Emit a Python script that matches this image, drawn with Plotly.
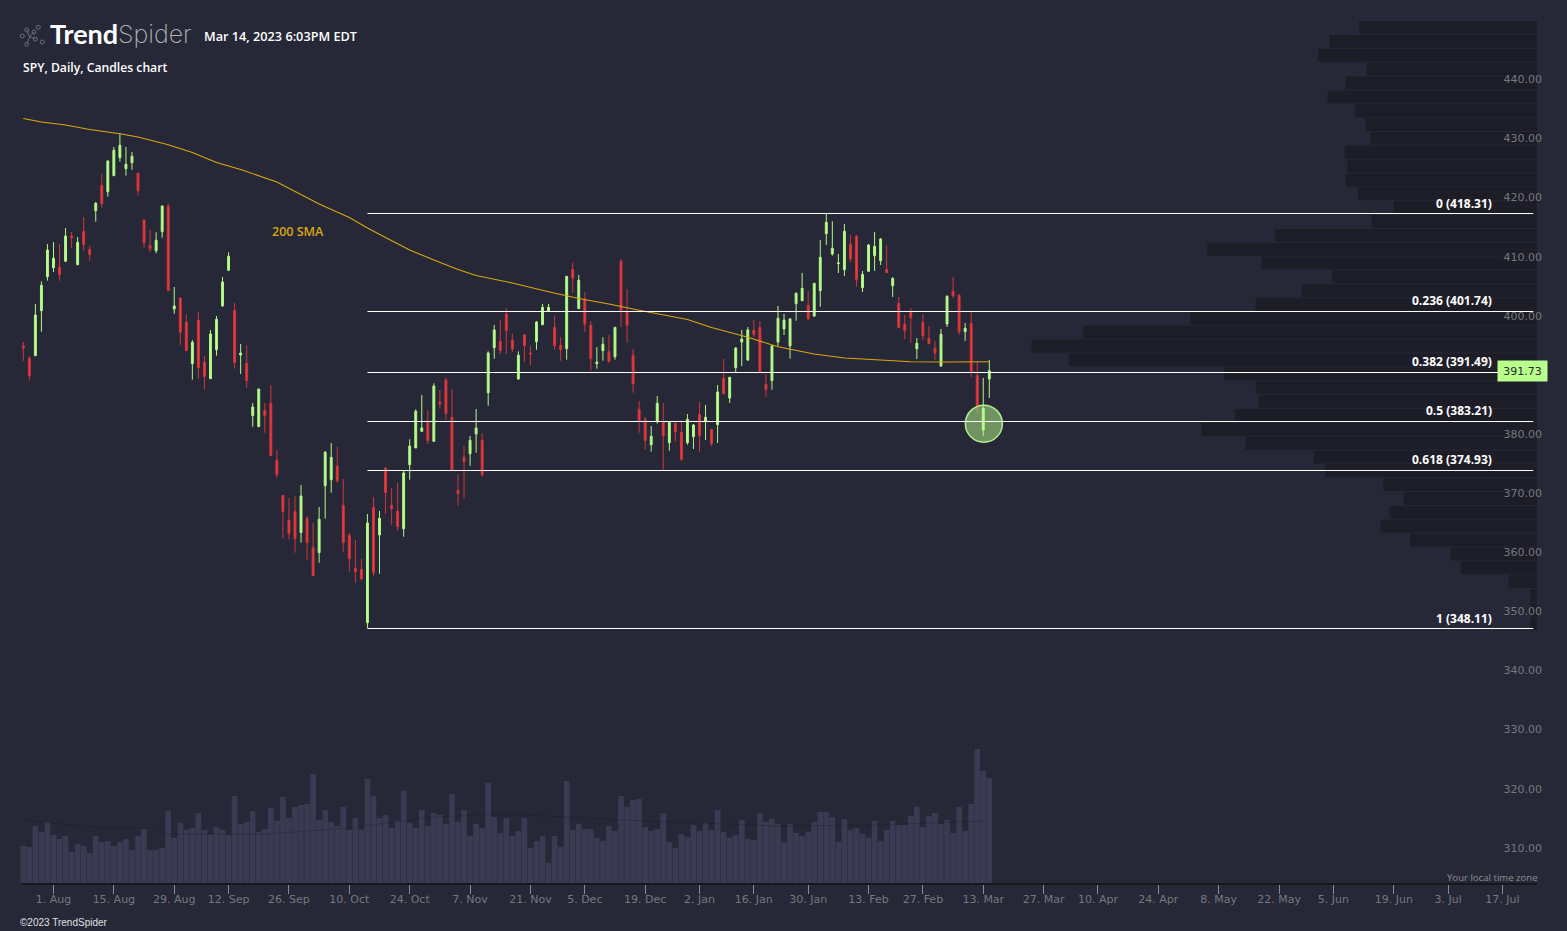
import math
import plotly.graph_objects as go

opens = [395.90,393.82,394.26,401.87,407.62,409.15,409.21,410.23,414.51,409.65,
415.30,412.26,418.79,423.08,422.00,424.71,427.75,425.89,426.91,425.11,
417.21,412.93,412.02,415.24,419.53,402.16,404.02,399.91,392.91,400.25,
393.14,390.37,395.27,402.67,408.71,401.94,394.38,392.97,384.11,382.25,
385.02,386.21,376.56,370.64,366.42,367.94,364.32,366.75,361.85,360.94,
372.27,373.28,375.55,368.95,363.88,358.30,358.13,349.09,368.61,363.93,
375.26,368.95,367.94,364.99,375.82,378.65,381.47,383.16,379.78,386.43,
390.15,383.84,371.49,377.07,377.68,381.01,379.95,388.00,395.61,396.70,
401.31,396.92,390.32,397.76,394.72,396.63,399.50,401.77,399.06,396.02,
395.44,408.87,402.21,403.90,399.40,392.91,395.11,394.94,394.09,410.23,
401.65,394.33,385.19,383.50,379.20,383.16,383.04,379.54,382.82,381.30,
379.54,380.56,384.35,383.10,381.81,382.59,390.44,387.10,392.23,396.58,
393.53,398.56,399.06,389.42,390.03,396.58,398.78,395.90,403.06,403.56,
402.79,400.97,405.26,414.90,411.46,409.82,408.81,413.10,414.46,405.76,
408.54,411.18,410.33,408.87,406.10,403.12,399.57,401.60,395.44,399.91,
397.20,395.51,392.52,399.62,405.15,404.48,398.32,399.74,390.94,381.69,
390.32]
closes = [395.56,390.88,401.14,406.17,412.14,410.74,407.96,414.51,414.22,413.44,
413.04,411.35,420.04,419.97,427.20,429.01,429.85,426.64,427.99,422.17,
413.38,412.36,413.78,419.58,405.26,402.67,398.22,395.11,396.53,392.23,
390.71,397.93,400.42,406.73,411.07,393.08,394.72,390.03,385.58,388.63,
384.11,377.34,374.13,367.87,364.15,363.30,370.53,362.63,357.05,366.58,
377.92,377.07,373.11,362.63,359.92,357.72,356.49,365.96,357.55,366.75,
371.08,368.38,365.33,374.42,378.98,384.85,382.03,379.88,389.13,386.09,
384.45,374.81,370.92,376.33,379.95,382.03,374.08,394.72,398.61,395.11,
398.49,395.39,394.33,395.95,394.55,399.96,402.45,402.45,395.95,395.27,
407.69,407.35,407.01,399.57,393.75,393.19,396.19,393.24,399.06,401.87,
399.40,389.52,383.21,379.88,380.63,386.21,380.73,382.99,381.40,376.67,
383.50,382.54,380.73,383.84,379.37,388.12,387.83,390.61,395.56,397.08,
398.61,397.81,391.38,388.51,395.90,400.59,400.30,400.47,404.81,405.66,
400.47,406.51,410.90,416.83,412.43,409.94,415.30,410.62,407.12,408.03,
412.99,412.77,414.00,408.30,407.35,399.00,398.49,400.69,396.36,397.64,
396.29,394.72,397.88,404.31,404.36,398.32,398.89,391.50,385.75,385.36,
391.73]
highs = [396.58,394.21,403.01,406.85,413.15,413.49,413.15,415.86,415.18,414.34,
417.72,412.82,420.26,425.00,427.31,429.56,431.93,429.56,428.72,425.22,
417.33,415.52,415.13,419.70,420.04,405.88,404.14,401.31,396.92,401.65,
394.21,398.61,400.97,407.57,411.75,403.17,396.24,396.07,386.26,388.63,
386.26,389.30,378.31,370.64,370.19,370.53,372.39,367.14,365.96,368.67,
378.14,379.49,378.82,373.40,364.27,363.08,359.87,367.48,370.36,367.99,
375.43,371.88,372.73,374.87,380.12,385.19,387.61,385.07,389.59,388.46,
390.49,388.58,374.25,378.98,380.68,385.24,381.18,395.00,399.45,400.30,
402.33,397.93,395.00,397.93,395.90,400.13,403.01,403.01,400.97,397.37,
407.69,410.06,407.91,405.04,400.13,395.73,397.37,397.76,399.06,410.62,
405.54,395.39,386.60,383.89,382.37,387.44,386.26,382.99,383.16,383.33,
384.40,382.71,386.43,385.92,381.81,389.30,393.70,390.61,395.73,398.61,
399.11,400.30,400.13,391.16,396.07,402.67,401.31,400.64,404.98,408.25,
405.20,406.51,413.83,418.35,416.99,411.46,416.54,414.68,414.68,408.59,
413.15,415.18,414.17,412.99,407.52,404.19,401.14,402.33,397.25,401.31,
399.28,396.75,398.78,404.48,407.57,404.65,399.79,401.65,393.19,390.49,
393.53]
lows = [393.41,390.03,394.26,398.32,406.95,408.42,406.95,410.11,412.48,409.65,
412.02,410.33,416.93,419.30,421.16,424.71,427.08,424.71,425.72,421.33,
412.53,411.85,411.58,414.22,405.26,401.36,396.12,395.11,390.20,390.37,
388.51,390.37,394.26,402.55,408.59,392.06,391.16,388.85,382.25,382.25,
381.23,377.34,373.62,363.30,363.14,360.94,362.63,359.75,357.05,359.24,
366.69,371.08,372.78,361.10,357.72,355.86,356.32,348.20,357.05,357.38,
367.53,365.67,364.66,363.64,373.28,378.65,381.40,379.37,379.66,385.29,
383.43,374.81,368.89,370.07,375.65,377.85,373.79,385.80,393.75,394.55,
394.55,394.89,390.20,393.24,392.69,395.27,399.50,401.77,395.27,393.41,
393.58,404.92,402.21,398.32,391.72,392.06,393.41,393.24,393.58,399.17,
396.46,388.00,381.23,378.36,378.02,382.76,374.81,378.19,379.71,376.50,
379.20,378.48,378.02,380.00,378.87,379.49,387.83,386.26,391.50,392.52,
393.36,397.42,391.38,387.32,388.51,395.90,397.76,393.75,400.18,403.56,
400.35,400.81,402.55,412.99,411.18,408.25,407.74,410.11,405.93,405.04,
408.42,408.59,409.60,408.30,404.19,399.00,397.08,396.41,393.70,396.92,
396.29,393.53,392.35,399.11,404.02,397.76,396.75,390.66,384.52,380.68,
387.10]
volume_m = [45.6,44.4,69.6,62.4,74.4,58.8,54,57.6,38.4,48,45.6,37.2,57.6,50.4,51.6,45.6,50.4,54,40.8,57.6,
66,40.8,40.8,43.2,87.6,55.2,73.2,64.8,67.2,85.2,
64.8,60,68.4,64.8,58.8,105.6,72,74.4,87.6,62.4,
66,91.2,75.6,104.4,79.2,92.4,94.8,96,132,76.8,
88.8,74.4,69.6,92.4,64.8,79.2,64.8,126,105.6,79.2,
82.8,67.2,75.6,111.6,73.2,67.2,88.8,69.6,85.2,82.8,
72,108,74.4,88.8,57.6,72,67.2,121.2,80.4,61.2,
79.2,57.6,63.6,79.2,43.2,51.6,57.6,25.2,57.6,44.4,
123.6,64.8,72,66,66,55.2,51.6,69.6,63.6,105.6,
92.4,100.8,102,68.4,63.6,66,85.2,50.4,43.2,60,
56.4,70.8,63.6,73.2,64.8,88.8,62.4,55.2,58.8,76.8,
54,52.8,85.2,74.4,78,72,50.4,72,61.2,57.6,
62.4,74.4,86.4,86.4,80.4,50.4,78,64.8,67.2,60,
55.2,75.6,51.6,64.8,75.6,70.8,70.8,81.6,92.4,68.4,
81.6,85.2,72,76.8,61.2,92.4,63.6,96,162,135.6,127.2]
bars = list(range(len(closes)))

sma_index = [0,3,7,11,16,19,24,28,32,36,42,46,49,54,57,60,64,68,72,75,81,87,92,97,102,110,114,120,125,131,136,142,147,153,160]
sma_200 = [434.38,433.79,433.29,432.52,431.81,431.26,429.95,428.63,426.94,425.76,423.64,421.49,419.92,417.64,415.86,414.25,412.14,410.45,408.84,407.83,406.56,405.08,403.94,403.00,401.94,400.38,399.03,397.37,395.78,394.55,393.87,393.53,393.24,393.19,393.23]

vol_sma_index = [0,13,21,24,40,54,68,79,90,99,112,125,141,159]
vol_sma = [76.8,67.2,67.2,60,60,67.2,80.4,84,80.4,76.8,73.2,69.6,70.8,75.6]

profile_price = [449.76,447.42,445.07,442.73,440.39,438.05,435.70,433.36,431.02,428.67,426.33,423.99,421.65,419.30,416.96,414.62,412.27,409.93,407.59,405.25,402.90,400.56,398.22,395.87,393.53,391.19,388.85,386.50,384.16,381.82,379.47,377.13,374.79,372.45,370.10,367.76,365.42,363.07,360.73,358.39,356.05,353.70,351.36,349.02]
profile_volume = [1780,2077,2190,1703,1913,2093,1820,1717,1663,1923,1897,1913,1790,1433,1653,2620,3297,2753,2047,2353,2813,3468,4539,5055,4682,3130,2812,2784,3021,3353,2913,2230,2115,1539,1333,1473,1563,1270,862,761,283,64,64,64]

fib_ratio = ["0","0.236","0.382","0.5","0.618","1"]
fib_level = [418.31,401.74,391.49,383.21,374.93,348.11]
fib_start_bar = 57
fib_end_bar = 250.1

tick_bar = [5,15,25,34,44,54,64,74,84,93,103,112,121,130,140,149,159,169,178,188,198,208,217,227,236,245]
tick_text = ["1. Aug","15. Aug","29. Aug","12. Sep","26. Sep","10. Oct","24. Oct","7. Nov","21. Nov","5. Dec","19. Dec","2. Jan","16. Jan","30. Jan","13. Feb","27. Feb","13. Mar","27. Mar","10. Apr","24. Apr","8. May","22. May","5. Jun","19. Jun","3. Jul","17. Jul"]
# 390.00 sits behind the last-price tag in the reference, so it is not shown
price_ticks = [310,320,330,340,350,360,370,380,400,410,420,430,440]

BG = "#262837"
UP = "#b9ff8c"
DOWN = "#ef3d40"
GOLD = "#dba70f"
GREY = "#77777e"
W, H = 1567, 931
Y_TOP, Y_BOT = 454.43, 296.94
PITCH, FIRST_PX = 6.0375, 23.3
TICKF = "DejaVu Sans"
TXT = "Open Sans"

fig = go.Figure()
fig.add_trace(go.Bar(y=profile_price, x=profile_volume, orientation="h", xaxis="x3", yaxis="y",
                     width=2.18, marker=dict(color="#1d1d27", line_width=0), hoverinfo="skip", showlegend=False))
fig.add_trace(go.Bar(x=bars, y=volume_m, xaxis="x", yaxis="y2", width=0.94,
                     marker=dict(color="#3a3b52", line_width=0), hoverinfo="skip", showlegend=False))
fig.add_trace(go.Scatter(x=vol_sma_index, y=vol_sma, xaxis="x", yaxis="y2", mode="lines",
                         line=dict(color="rgba(20,20,28,0.28)", width=1), hoverinfo="skip", showlegend=False))
fig.add_trace(go.Candlestick(x=bars, open=opens, high=highs, low=lows, close=closes, xaxis="x", yaxis="y",
                             increasing=dict(line=dict(color="#b2f786", width=1), fillcolor=UP),
                             decreasing=dict(line=dict(color="#d2343a", width=1), fillcolor=DOWN),
                             whiskerwidth=0, showlegend=False, hoverinfo="skip"))
fig.add_trace(go.Scatter(x=sma_index, y=sma_200, xaxis="x", yaxis="y", mode="lines",
                         line=dict(color=GOLD, width=1.1), hoverinfo="skip", showlegend=False))

shapes = [dict(type="circle", xref="x", yref="y", xsizemode="pixel", ysizemode="pixel",
               xanchor=159.1, yanchor=382.76, x0=-18.5, x1=18.5, y0=-18.5, y1=18.5,
               fillcolor="rgba(185,255,140,0.5)", line=dict(color="#b4ee8c", width=1.5), layer="above")]
for lv in fib_level:
    # keep each level on a whole device row so the 1 px rule stays crisp
    row = (Y_TOP - lv) / (Y_TOP - Y_BOT) * H
    off = row - (math.floor(row + 0.1) + 0.5)
    shapes.append(dict(type="line", xref="x", yref="y", ysizemode="pixel", yanchor=lv,
                       x0=fib_start_bar, x1=fib_end_bar, y0=off, y1=off,
                       line=dict(color="#ffffff", width=1), layer="above"))
# baseline of the date axis
shapes.append(dict(type="line", xref="paper", yref="paper", x0=21/W, x1=1537/W, y0=1-884/H, y1=1-884/H,
                   line=dict(color="#17171d", width=2), layer="above"))

# logo glyph
def pc(px, py, r):
    return dict(type="circle", xref="paper", yref="paper", x0=(px-r)/W, x1=(px+r)/W,
                y0=1-(py+r)/H, y1=1-(py-r)/H, line=dict(color="#6d6d74", width=1))
def pl(a, b, c, d):
    return dict(type="line", xref="paper", yref="paper", x0=a/W, x1=c/W, y0=1-b/H, y1=1-d/H,
                line=dict(color="#6d6d74", width=1))
shapes += [pc(22.3,36,2),pc(26.7,30,2),pc(34,32,2),pc(38.3,27.3,2),pc(35.3,39,2),pc(42.3,42,2),pc(26.7,44.3,2),
           pl(26.7,30,29.7,36.7),pl(29.7,36.7,26.7,44.3),pl(29.7,36.7,34,32),pl(29.7,36.7,35.3,39)]

ann = []
def label(text, px, py, size=12, color="#ffffff", family=TXT, anchor="left", weight=None):
    shift = -2 if anchor == "left" else 2
    ann.append(dict(text=text, xref="paper", yref="paper", x=(px+shift)/W, y=1-py/H, xanchor=anchor, yanchor="middle",
                    showarrow=False, font=dict(size=size, color=color, family=family, weight=weight)))
label("Trend", 50, 34, 27, "#ffffff", "Lato", weight=700)
label("Spider", 118, 34, 25, "#b0b0b5", "Inter", weight=200)
label("Mar 14, 2023 6:03PM EDT", 204, 36, 12.7, "#ffffff", TXT, weight=600)
label("SPY, Daily, Candles chart", 23, 68, 12.2, "#ffffff", TXT, weight=600)
label("©2023 TrendSpider", 20, 922, 10, "#e0e0e0", "Liberation Sans")
label("Your local time zone", 1538, 877, 9.6, "#8d8d92", TXT, anchor="right")
label("200 SMA", 272, 231, 12.5, GOLD, TXT, weight=600)

for r, lv in zip(fib_ratio, fib_level):
    ann.append(dict(text=f"{r} ({lv:.2f})", xref="x", yref="y", x=243.6, y=lv, yshift=10.5, xanchor="right",
                    yanchor="middle", showarrow=False, font=dict(size=12, color="#ffffff", family=TXT, weight=700)))
ann.append(dict(text=f"{closes[-1]:.2f}", xref="paper", yref="y", x=1522.5/W, y=closes[-1], xanchor="center",
                yanchor="middle", showarrow=False, width=49, height=20, bgcolor=UP, borderpad=0,
                font=dict(size=11, color="#26282f", family=TICKF)))

fig.update_layout(
    width=W, height=H, margin=dict(l=0, r=0, t=0, b=0), autosize=False,
    paper_bgcolor=BG, plot_bgcolor=BG, showlegend=False, boxgap=0.55, barmode="overlay",
    shapes=shapes, annotations=ann, hovermode=False,
    xaxis=dict(domain=[0, 1], range=[(0-FIRST_PX)/PITCH, (W-FIRST_PX)/PITCH], anchor="free",
               position=(H-884)/H, tickmode="array", tickvals=tick_bar, ticktext=tick_text, ticks="outside",
               ticklen=9, tickwidth=1, tickcolor="#8a8a8f", showgrid=False, zeroline=False, showline=False,
               ticklabelstandoff=-4, tickfont=dict(size=11, color=GREY, family=TICKF),
               rangeslider=dict(visible=False), tickangle=0),
    xaxis3=dict(overlaying="x", range=[15370, -300], visible=False, anchor="free", position=0),
    yaxis=dict(domain=[0, 1], range=[Y_BOT, Y_TOP], side="right", anchor="free", position=1545/W,
               tickmode="array", tickvals=price_ticks, tickformat=".2f", ticklabelposition="inside",
               ticklabelshift=-6, ticks="", showgrid=False, zeroline=False, showline=False,
               tickfont=dict(size=11, color=GREY, family=TICKF)),
    yaxis2=dict(domain=[0, 1], overlaying="y", range=[-56.4, 1060.8], visible=False),
)
fig.write_html("out.html", config=dict(displayModeBar=False),
               post_script="document.body.style.margin='0';document.body.style.background='#262837';")
